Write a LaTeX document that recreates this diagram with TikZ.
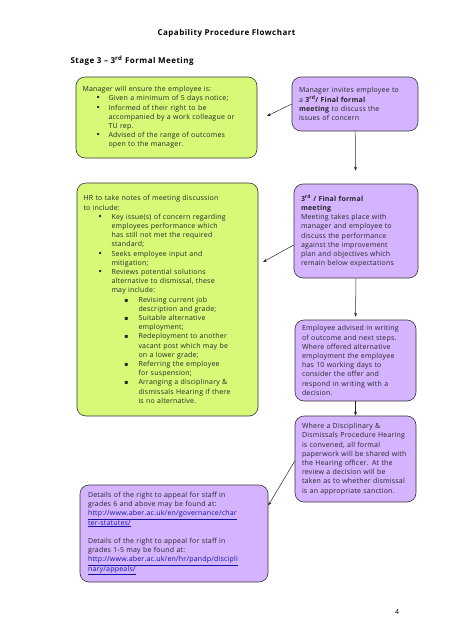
\documentclass[tikz,border=0pt]{standalone}
\usepackage{fontspec}
\setmainfont{Open Sans}[LetterSpace=3]
\newfontfamily\headfont{Open Sans}[LetterSpace=6]
\newfontfamily\markfont{DejaVu Sans}
\usepackage{enumitem}
\usetikzlibrary{arrows.meta,positioning}

\definecolor{limefill}{RGB}{214,250,120}
\definecolor{lilacfill}{RGB}{212,180,255}
\definecolor{linkblue}{RGB}{20,20,170}
\newcommand{\weblink}[1]{\textcolor{linkblue}{\underline{#1}}}
\newcommand{\dotmark}{{\markfont\fontsize{8}{9}\selectfont •}}
\newcommand{\sqmark}{{\markfont\fontsize{6}{9}\selectfont ▪}}

\begin{document}
\begin{tikzpicture}[x=1pt, y=-1pt,
    box/.style={draw=black!80, rounded corners=9pt, line width=0.6pt, align=left, inner sep=0pt, font=\fontsize{7}{9.2}\selectfont, text=black!85},
    gbox/.style={box, fill=limefill},
    pbox/.style={box, fill=lilacfill},
    arr/.style={-{Stealth[length=4pt, width=3pt]}, line width=0.5pt, black!85}
]
\useasboundingbox (0,0) rectangle (453,640);

\node[font=\headfont\bfseries\fontsize{8}{10}\selectfont] (title) at (226.5,33) {Capability Procedure Flowchart};
\node[anchor=west, font=\headfont\bfseries\fontsize{8}{10}\selectfont] (stage) at (67,61) {Stage 3 – 3\textsuperscript{rd} Formal Meeting};

% left column
\node[gbox, minimum width=181pt, minimum height=81pt, text width=168pt] (ensure) at (166.5,117.5) {Manager will ensure the employee is:
\begin{itemize}[nosep, leftmargin=26pt, labelsep=8pt, label=\dotmark]
\item Given a minimum of 5 days notice;
\item Informed of their right to be\\ accompanied by a work colleague or\\ TU rep.
\item Advised of the range of outcomes\\ open to the manager.
\end{itemize}};

\node[gbox, minimum width=181pt, minimum height=233pt, text width=168pt] (notes) at (167.5,299.5) {HR to take notes of meeting discussion\\ to include:
\begin{itemize}[nosep, leftmargin=28pt, labelsep=9pt, label=\dotmark]
\item Key issue(s) of concern regarding\\ employees performance which\\ has still not met the required\\ standard;
\item Seeks employee input and\\ mitigation;
\item Reviews potential solutions\\ alternative to dismissal, these\\ may include:
\begin{itemize}[nosep, leftmargin=27pt, labelsep=10pt, label=\sqmark]
\item Revising current job\\ description and grade;
\item Suitable alternative\\ employment;
\item Redeployment to another\\ vacant post which may be\\ on a lower grade;
\item Referring the employee\\ for suspension;
\item Arranging a disciplinary \&\\ dismissals Hearing if there\\ is no alternative.
\end{itemize}
\end{itemize}};

\node[pbox, minimum width=188pt, minimum height=97pt, text width=172pt] (appeal) at (174,533.5) {Details of the right to appeal for staff in\\ grades 6 and above may be found at:\\ \weblink{http://www.aber.ac.uk/en/governance/char}\\ \weblink{ter-statutes/}\\[9.2pt] Details of the right to appeal for staff in\\ grades 1-5 may be found at:\\ \weblink{http://www.aber.ac.uk/en/hr/pandp/discipli}\\ \weblink{nary/appeals/}};

% right column
\node[pbox, minimum width=126pt, minimum height=54pt, text width=112pt] (invite) at (355,104) {Manager invites employee to\\ a \textbf{3\textsuperscript{rd}/ Final formal}\\ \textbf{meeting} to discuss the\\ issues of concern};

\node[pbox, minimum width=124pt, minimum height=94pt, text width=110pt] (meeting) at (356,231) {\textbf{3\textsuperscript{rd} / Final formal}\\ \textbf{meeting}\\ Meeting takes place with\\ manager and employee to\\ discuss the performance\\ against the improvement\\ plan and objectives which\\ remain below expectations};

\node[pbox, minimum width=121pt, minimum height=81pt, text width=107pt] (outcome) at (355.5,360.5) {Employee advised in writing\\ of outcome and next steps.\\ Where offered alternative\\ employment the employee\\ has 10 working days to\\ consider the offer and\\ respond in writing with a\\ decision.};

\node[pbox, minimum width=121pt, minimum height=86pt, text width=107pt] (hearing) at (355.5,459) {Where a Disciplinary \&\\ Dismissals Procedure Hearing\\ is convened, all formal\\ paperwork will be shared with\\ the Hearing officer. At the\\ review a decision will be\\ taken as to whether dismissal\\ is an appropriate sanction.};

\node[font=\fontsize{7}{9}\selectfont] (pageno) at (397,612) {4};

\coordinate (ensuretip) at (267,116);
\coordinate (notestip) at (263,262);

\draw[arr, shorten >=13pt] (invite) -- (meeting);
\draw[arr, shorten >=3pt] (meeting) -- (outcome);
\draw[arr] (outcome) -- (hearing);
\draw[arr] (invite.west) -- (ensuretip);
\draw[arr] ([yshift=-14pt]meeting.west) -- (notestip);
\draw[arr] ([yshift=-2pt]hearing.west) -- ([yshift=28pt]appeal.east);
\end{tikzpicture}
\end{document}
